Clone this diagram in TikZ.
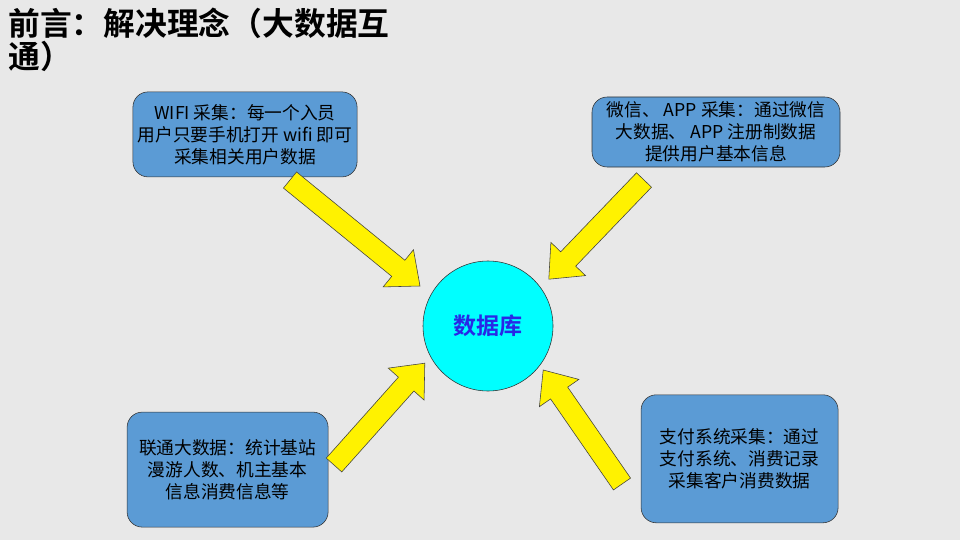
\documentclass[tikz,border=0pt]{standalone}
\usepackage{fontspec}
\newfontfamily\cjk{Noto Sans CJK SC}[BoldFont={Noto Sans CJK SC Bold}]
\usetikzlibrary{calc}
\definecolor{bggray}{RGB}{232,232,232}
\definecolor{boxblue}{RGB}{91,155,213}
\definecolor{dbblue}{RGB}{40,40,230}
\definecolor{dbcyan}{RGB}{0,255,255}
\tikzset{
  infobox/.style={draw=black!80, fill=boxblue, rounded corners=0.38cm, align=center,
    font=\cjk\fontsize{12.6}{15.6}\selectfont},
  bigarrow/.style={draw=black!75, fill=yellow, line join=miter},
}
% yellow block arrow from #1 to #2
\newcommand\bigarrow[2]{%
  \coordinate (hb) at ($(#2)!0.7cm!(#1)$);
  \draw[bigarrow] ($(#1)!0.26cm!90:(#2)$) -- ($(hb)!0.26cm!90:(#2)$) -- ($(hb)!0.6cm!90:(#2)$)
    -- (#2) -- ($(hb)!0.6cm!-90:(#2)$) -- ($(hb)!0.26cm!-90:(#2)$) -- ($(#1)!0.26cm!-90:(#2)$) -- cycle;
}
\begin{document}
\begin{tikzpicture}[x=1cm,y=1cm]
\fill[bggray] (0,0) rectangle (24,13.5);
\useasboundingbox (0,0) rectangle (24,13.5);
\node[anchor=north west, inner sep=0pt, align=left, font=\cjk\bfseries\fontsize{22.6}{23.5}\selectfont] (title) at (0.2,13.3) {前言：解决理念（大数据互\\通）};
\node[infobox, minimum width=5.35cm, minimum height=2.125cm] (wifi) at (6.125,10.14) {WIFI 采集：每一个入员\\用户只要手机打开 wifi 即可\\采集相关用户数据};
\node[infobox, minimum width=6.2cm, minimum height=1.75cm] (wechat) at (17.9,10.2) {微信、 APP 采集：通过微信\\大数据、 APP 注册制数据\\提供用户基本信息};
\node[infobox, minimum width=5.025cm, minimum height=2.875cm] (unicom) at (5.69,1.76) {联通大数据：统计基站\\漫游人数、机主基本\\信息消费信息等};
\node[infobox, minimum width=4.925cm, minimum height=3.2cm] (pay) at (18.49,2.03) {支付系统采集：通过\\支付系统、消费记录\\采集客户消费数据};
\node[circle, draw=black!80, fill=dbcyan, minimum size=3.25cm, text=dbblue, font=\cjk\bfseries\fontsize{16.4}{18}\selectfont] (db) at (12.2,5.35) {数据库};
\coordinate (wifiT) at (7.25,9.0);
\coordinate (wifiH) at (10.5,6.35);
\coordinate (wechatT) at (16.1,9.0);
\coordinate (wechatH) at (13.72,6.52);
\coordinate (unicomT) at (8.35,1.875);
\coordinate (unicomH) at (10.62,4.42);
\coordinate (payT) at (15.55,1.4);
\coordinate (payH) at (13.58,4.25);
\bigarrow{wifiT}{wifiH}
\bigarrow{wechatT}{wechatH}
\bigarrow{unicomT}{unicomH}
\bigarrow{payT}{payH}
\end{tikzpicture}
\end{document}
